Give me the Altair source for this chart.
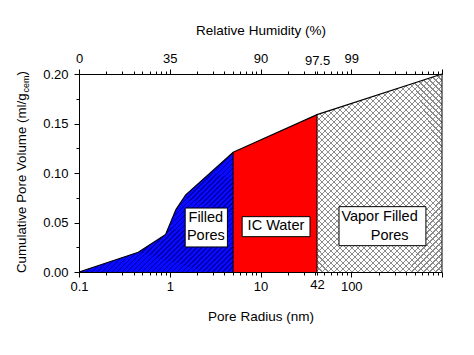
import altair as alt
import pandas as pd

# ---- data ----
radius = [0.1, 0.45, 0.9, 1.17, 1.5, 5.0, 42.0, 1000.0]          # pore radius (nm)
volume = [0.0, 0.020, 0.038, 0.063, 0.078, 0.121, 0.159, 0.200]  # cumulative pore volume
filled_limit = 5.0
ic_limit = 42.0

x_tick_values = [0.1, 0.2, 0.3, 0.4, 0.5, 0.6, 0.7, 0.8, 0.9,
                 1, 2, 3, 4, 5, 6, 7, 8, 9,
                 10, 20, 30, 40, 42, 50, 60, 70, 80, 90,
                 100, 200, 300, 400, 500, 600, 700, 800, 900, 1000]
x_major = [0.1, 1, 10, 100, 1000]
bottom_label_pos = [0.1, 1, 10, 42, 100]
bottom_label_txt = ["0.1", "1", "10", "42", "100"]
top_label_pos = [0.1, 1, 10, 42, 100]
top_label_txt = ["0", "35", "90", "97.5", "99"]
y_tick_values = [0.0, 0.025, 0.05, 0.075, 0.1, 0.125, 0.15, 0.175, 0.2]
y_major = [0.0, 0.05, 0.1, 0.15, 0.2]

text_labels = ["Filled", "Pores", "IC Water", "Vapor Filled", "Pores"]
text_radius = [2.5, 2.5, 14.8, 205.0, 265.0]
text_volume = [0.0548, 0.0365, 0.0462, 0.0551, 0.0365]

box_left = [1.48, 6.28, 73.3]
box_right = [4.32, 35.1, 665.0]
box_top = [0.0646, 0.0559, 0.0660]
box_bottom = [0.0253, 0.0357, 0.0266]

FONT = "Liberation Sans"

df = pd.DataFrame({"radius": radius, "volume": volume})
blue_df = df[df.radius <= filled_limit]
red_df = df[(df.radius >= filled_limit) & (df.radius <= ic_limit)]
vapor_df = df[df.radius >= ic_limit]
rule_df = df[df.radius >= filled_limit]
text_df = pd.DataFrame({"label": text_labels, "radius": text_radius, "volume": text_volume})
box_df = pd.DataFrame({"l": box_left, "r": box_right, "t": box_top, "b": box_bottom})


def ternary(pos, txt):
    return " : ".join(f"datum.value == {p} ? '{t}'" for p, t in zip(pos, txt)) + " : ''"


def major_test(vals):
    return "indexof([" + ",".join(str(v) for v in vals) + "], datum.value) >= 0"


def stripes(bg, fg, n, frac):
    stops = []
    for i in range(n):
        a = i / n
        b = (i + 1 - frac) / n
        c = (i + 1) / n
        stops += [{"offset": a, "color": bg}, {"offset": b, "color": bg},
                  {"offset": b, "color": fg}, {"offset": c, "color": fg}]
    return stops


xscale = alt.Scale(type="log", domain=[0.1, 1000], nice=False)
yscale = alt.Scale(domain=[0, 0.2], nice=False, zero=True)

bottom_axis = alt.Axis(values=x_tick_values, labelExpr=ternary(bottom_label_pos, bottom_label_txt),
                       tickSize={"condition": {"test": major_test(x_major), "value": 5}, "value": 3},
                       labelPadding=3, titleY=48, titleBaseline="alphabetic")
top_axis = alt.Axis(orient="top", values=x_tick_values, labelExpr=ternary(top_label_pos, top_label_txt),
                    tickSize={"condition": {"test": major_test(x_major), "value": 5}, "value": 3},
                    labelPadding=4, titleY=-40, titleBaseline="alphabetic")
left_axis = alt.Axis(values=y_tick_values, format=".2f",
                     labelExpr="indexof([0,0.05,0.1,0.15,0.2], datum.value) >= 0 ? datum.label : ''",
                     tickSize={"condition": {"test": major_test(y_major), "value": 5}, "value": 3},
                     labelPadding=6, title=None)


def X(field):
    return alt.X(f"{field}:Q", scale=xscale, axis=bottom_axis, title="Pore Radius (nm)")


def X2(field):
    return alt.X2(f"{field}:Q")


def Y(field):
    return alt.Y(f"{field}:Q", scale=yscale, axis=left_axis, title=None)


blue_fill = {"gradient": "linear", "x1": 0, "y1": 0, "x2": 1.101, "y2": 0.872,
             "stops": stripes("#0a0aff", "#0000a8", 55, 0.3)}
hatch_a = {"gradient": "linear", "x1": 0, "y1": 0, "x2": 0.738, "y2": 1.166,
           "stops": stripes("rgba(255,255,255,0)", "#8c8c8c", 54, 0.2)}
hatch_b = {"gradient": "linear", "x1": 0, "y1": 1, "x2": 0.738, "y2": -0.166,
           "stops": stripes("rgba(255,255,255,0)", "#8c8c8c", 54, 0.2)}

blue = alt.Chart(blue_df).mark_area(fill=blue_fill, opacity=1).encode(x=X("radius"), y=Y("volume"))
red = alt.Chart(red_df).mark_area(fill="#ff0000", opacity=1).encode(x=X("radius"), y=Y("volume"))
vapor = alt.Chart(vapor_df).mark_area(fill="white", opacity=1).encode(x=X("radius"), y=Y("volume"))
vapor_a = alt.Chart(vapor_df).mark_area(fill=hatch_a, opacity=1).encode(x=X("radius"), y=Y("volume"))
vapor_b = alt.Chart(vapor_df).mark_area(fill=hatch_b, opacity=1).encode(x=X("radius"), y=Y("volume"))
curve = alt.Chart(df).mark_line(color="black", strokeWidth=1.2).encode(x=X("radius"), y=Y("volume"))
rules = alt.Chart(rule_df).mark_rule(color="black", strokeWidth=1).encode(
    x=X("radius"), y=Y("volume"), y2=alt.datum(0))
boxes = alt.Chart(box_df).mark_rect(fill="white", stroke="black", strokeWidth=1).encode(
    x=X("l"), x2=X2("r"), y=Y("t"), y2=alt.Y2("b:Q"))
texts = alt.Chart(text_df).mark_text(font=FONT, fontSize=14.5, color="black", baseline="middle").encode(
    x=X("radius"), y=Y("volume"), text="label:N")

# y-axis title with subscript
ttl_main = alt.Chart(pd.DataFrame({"t": ["Cumulative Pore Volume (ml/g"]})).mark_text(
    font=FONT, fontSize=13.3, angle=270, align="left", baseline="middle", color="black").encode(
    x=alt.value(-57), y=alt.value(199), text="t:N")
ttl_sub = alt.Chart(pd.DataFrame({"t": ["cem"]})).mark_text(
    font=FONT, fontSize=9, angle=270, align="left", baseline="middle", color="black").encode(
    x=alt.value(-53), y=alt.value(18.5), text="t:N")
ttl_end = alt.Chart(pd.DataFrame({"t": [")"]})).mark_text(
    font=FONT, fontSize=13.3, angle=270, align="left", baseline="middle", color="black").encode(
    x=alt.value(-57), y=alt.value(1.5), text="t:N")

top_layer = alt.Chart(df).mark_line(opacity=0).encode(
    x=alt.X("radius:Q", scale=xscale, axis=top_axis, title="Relative Humidity (%)"),
    y=Y("volume"))

inner = alt.layer(blue, red, vapor, vapor_a, vapor_b, curve, rules, boxes, texts,
                  ttl_main, ttl_sub, ttl_end)

chart = alt.layer(inner, top_layer).resolve_axis(x="independent").properties(
    width=363, height=198,
    autosize=alt.AutoSizeParams(type="none"),
    padding={"left": 79, "top": 74, "right": 32, "bottom": 83},
    background="white",
).configure_axis(
    grid=False, labelFont=FONT, titleFont=FONT, labelFontSize=13, titleFontSize=13.5,
    titleFontWeight="normal", labelColor="black", titleColor="black",
    domainColor="black", tickColor="black", domainWidth=1, tickWidth=1,
    labelFlush=False, labelOverlap=False,
).configure_view(stroke=None)

chart.save("out.html", embed_options={"renderer": "svg", "actions": False})
